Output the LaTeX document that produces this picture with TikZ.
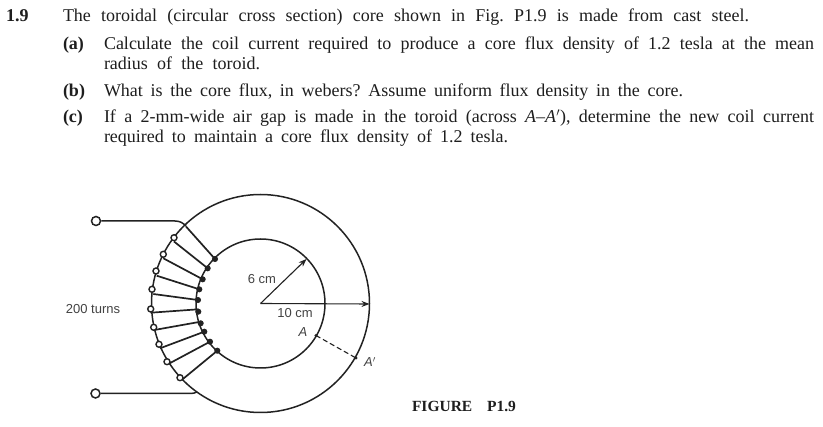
\documentclass[tikz,border=0pt]{standalone}
\usepackage{fontspec}
\setmainfont{Liberation Serif}
\newfontfamily\labelfont{Liberation Sans}
\usetikzlibrary{arrows.meta}
\definecolor{ink}{HTML}{1E1E1E}
\definecolor{lineink}{HTML}{222222}
\tikzset{
  x=1pt,y=-1pt,
  body/.style={anchor=base west,inner sep=0pt,outer sep=0pt,text=ink,font=\frenchspacing\fontsize{18}{20}\selectfont},
  lab/.style={inner sep=0pt,outer sep=0pt,text=lineink!85,font=\labelfont\fontsize{13}{15}\selectfont},
  core/.style={draw=lineink,line width=1.5pt},
  turn/.style={draw=lineink,line width=1.7pt},
  lead/.style={draw=lineink,line width=1.5pt},
  terminal/.style={circle,draw=lineink,line width=1.5pt,fill=white,minimum size=9pt,inner sep=0pt},
  outbump/.style={circle,draw=lineink,line width=1.4pt,fill=white,minimum size=6pt,inner sep=0pt},
  inbump/.style={circle,draw=lineink,line width=1pt,fill=lineink,minimum size=5pt,inner sep=0pt},
  dim/.style={draw=lineink,line width=1.1pt,-{Stealth[length=8pt,width=6pt]}},
}
\newcommand{\justline}[2]{\hbox to #1{\spaceskip=.2em plus 1fil minus .1em\relax #2}}
\begin{document}
\begin{tikzpicture}
\useasboundingbox (0,0) rectangle (823,427);
\fill[white] (0,0) rectangle (823,427);
% text
\node[body] (num) at (6,22) {\textbf{1.9}};
\node[body] (l0) at (63,22) {\justline{686pt}{The toroidal (circular cross section) core shown in Fig. P1.9 is made from cast steel.}};
\node[body] (pa) at (63,50) {\textbf{(a)}};
\node[body] (l1) at (104,50) {\justline{710pt}{Calculate the coil current required to produce a core flux density of 1.2 tesla at the mean}};
\node[body] (l2) at (104,70) {\justline{156pt}{radius of the toroid.}};
\node[body] (pb) at (63,97) {\textbf{(b)}};
\node[body] (l3) at (104,97) {\justline{579pt}{What is the core flux, in webers? Assume uniform flux density in the core.}};
\node[body] (pc) at (63,123) {\textbf{(c)}};
\node[body] (l4) at (104,123) {\justline{710pt}{If a 2-mm-wide air gap is made in the toroid (across \textit{A}--\textit{A}$'$), determine the new coil current}};
\node[body] (l5) at (104,143) {\justline{404pt}{required to maintain a core flux density of 1.2 tesla.}};
\node[body,font=\fontsize{15.5}{18}\bfseries\selectfont] (fig) at (412,412) {\justline{104pt}{FIGURE P1.9}};
% core
\coordinate (c) at (260.5,303.5);
\draw[core] (c) circle[radius=109];
\draw[core] (c) circle[radius=64.5];
% turns
\foreach \i/\ox/\oy/\ix/\iy in {
 0/186/226.5/215/259,
 1/174/241.5/207.7/268.3,
 2/163.3/258.3/202.7/279.3,
 3/156.7/275.7/199.3/289.3,
 4/153.3/294/198/300,
 5/150.7/312.7/198.3/309.3,
 6/154.3/330/200.7/321.7,
 7/160/348.3/204.3/331.7,
 8/168.3/364/210/341.7,
 9/181.7/380/217.3/350.7}{
  \coordinate (o\i) at (\ox,\oy);
  \coordinate (n\i) at (\ix,\iy);
  \draw[turn] (o\i) -- (n\i);
}
% bumps
\foreach \i/\x/\y in {1/174/237.7,2/163.3/254.3,3/156/271,4/152/289.3,5/150.7/309,6/153.7/327.3,7/159/344.3,8/167/361.7,9/180/377.7}{
  \node[outbump] (ob\i) at (\x,\y) {};
}
\foreach \i/\x/\y in {0/215/259,1/207.7/268.3,2/202.7/279.3,3/199.3/289.3,4/198/300,5/198.3/311.7,6/200.7/323.3,7/204.3/331.7,8/210/341.7,9/217.3/350.7}{
  \node[inbump] (ib\i) at (\x,\y) {};
}
% leads
\node[terminal] (t1) at (96,221) {};
\node[terminal] (t2) at (95.5,393.5) {};
\coordinate (lt) at (186,226);
\coordinate (lb) at (197,392);
\draw[lead] (t1) -- (175,221) .. controls (180,221) and (183,223) .. (lt);
\draw[lead] (t2) -- (190,393.5) .. controls (193,393.5) and (195,393) .. (lb);
% dimensions
\coordinate (r6) at (306.5,259);
\coordinate (r10) at (369.5,304);
\draw[dim] (c) -- (r6);
\draw[dim] (c) -- (r10);
\coordinate (a1) at (316,335.5);
\coordinate (a2) at (356,358);
\draw[draw=lineink,line width=1.1pt,dash pattern=on 5pt off 3pt] (a1) -- (a2);
\fill[lineink] (a1) circle[radius=1.6];
\fill[lineink] (a2) circle[radius=1.6];
% labels
\node[lab] (l200) at (93,309.5) {200 turns};
\node[lab] (l6) at (262,279) {6 cm};
\node[lab] (l10) at (295,313.5) {10 cm};
\node[lab,font=\labelfont\itshape\fontsize{13}{15}\selectfont] (la) at (303,332) {A};
\node[lab,font=\labelfont\itshape\fontsize{13}{15}\selectfont] (lap) at (370,362) {A$'$};
\end{tikzpicture}
\end{document}
